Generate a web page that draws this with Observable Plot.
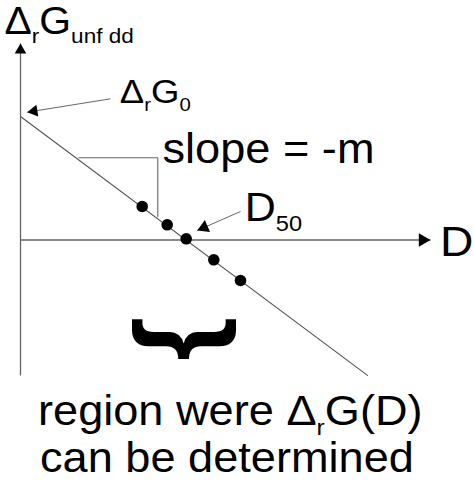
<!DOCTYPE html>
<html>
<head>
<meta charset="utf-8">
<script src="https://cdn.jsdelivr.net/npm/d3@7"></script>
<script src="https://cdn.jsdelivr.net/npm/@observablehq/plot@0.6"></script>
<style>
  html, body { margin: 0; padding: 0; background: #fff; }
  #chart { width: 474px; height: 483px; overflow: hidden; }
</style>
</head>
<body>
<div id="chart"></div>
<script>
// ---- data (denaturant concentration D vs. ΔrG) ----
const pointD = [12.17, 14.67, 16.57, 19.33, 22.0];
const pointG = [3.35, 1.52, 0.12, -1.98, -4.05];

// fitted straight line, end points
const lineD = [0, 34.7];
const lineG = [12.35, -13.54];

// slope triangle (horizontal + vertical leg)
const bracketD = [5.83, 13.73, 13.73];
const bracketG = [8.22, 8.22, 2.35];

// arrows: y axis, x axis, ΔrG0 pointer, D50 pointer
const arrowFromD = [0, 0, 9.0, 22.0];
const arrowFromG = [-13.55, 0, 14.12, 2.85];
const arrowTipD  = [0, 41, 0.67, 17.67];
const arrowTipG  = [19.65, 0, 12.78, 0.95];

// labels (anchor = left end of baseline)
const labelText = ["Δ_{r}G_{unf dd}", "Δ_{r}G_{0}", "slope = -m", "D_{50}", "D",
                   "region were Δ_{r}G(D)", "can be determined"];
const labelD = [-1.6, 9.93, 14.2, 22.42, 41.96, 1.75, 1.95];
const labelG = [20.6, 13.7, 7.75, 1.9, -1.55, -18.45, -23.22];

// brace marking the transition region
const braceText = ["}"];
const braceD = [17.07];
const braceG = [-9.88];

// ---- styling ----
const fontSizes = [38, 34, 42, 40, 43, 42, 42];
const headR = [4.3, 5.0, 4.4, 4.8];
const arrowWidth = [1.3, 1.3, 1, 1];
const PX = 10; // pixels per data unit (both axes, from the scales below)

function tipDist(r) {
  const area = Math.PI * r * r;
  return 2 * Math.sqrt(area / (3 * Math.sqrt(3)));
}
const heads = arrowTipD.map((td, i) => {
  const dxp = (td - arrowFromD[i]) * PX;
  const dyp = -(arrowTipG[i] - arrowFromG[i]) * PX;
  const len = Math.hypot(dxp, dyp);
  const ux = dxp / len, uy = dyp / len;
  const t = tipDist(headR[i]);
  return {
    D: td - ux * t / PX,
    G: arrowTipG[i] + uy * t / PX,
    rot: Math.atan2(dxp, -dyp) * 180 / Math.PI,
    r: headR[i]
  };
});

const idx = (a) => a.map((_, i) => i);

const marks = [];
// fitted line
marks.push(Plot.line(idx(lineD), {x: i => lineD[i], y: i => lineG[i], stroke: "#555", strokeWidth: 1.1}));
// slope bracket
marks.push(Plot.line(idx(bracketD), {x: i => bracketD[i], y: i => bracketG[i], stroke: "#666", strokeWidth: 1.1}));
// arrow shafts
arrowFromD.forEach((_, i) => {
  marks.push(Plot.link([i], {
    x1: j => arrowFromD[j], y1: j => arrowFromG[j],
    x2: j => arrowTipD[j], y2: j => arrowTipG[j],
    stroke: "#666", strokeWidth: arrowWidth[i]
  }));
});
// arrow heads
heads.forEach((h) => {
  marks.push(Plot.dot([h], {x: "D", y: "G", rotate: "rot", r: h.r, symbol: "triangle", fill: "black", stroke: "none"}));
});
// data points
marks.push(Plot.dot(idx(pointD), {x: i => pointD[i], y: i => pointG[i], r: 5.8, fill: "black", stroke: "none"}));
// labels
labelText.forEach((_, i) => {
  marks.push(Plot.text([i], {
    x: j => labelD[j], y: j => labelG[j], text: j => labelText[j],
    fontSize: fontSizes[i], textAnchor: "start", lineAnchor: "bottom", fill: "black"
  }));
});
// brace
marks.push(Plot.text(idx(braceText), {
  x: i => braceD[i], y: i => braceG[i], text: i => braceText[i],
  rotate: 90, fontSize: 112, fontWeight: "bold", textAnchor: "middle", lineAnchor: "middle", fill: "black"
}));

const svg = Plot.plot({
  width: 474,
  height: 483,
  margin: 0,
  x: {domain: [0, 41], range: [20, 430], axis: null},
  y: {domain: [-13.55, 19.75], range: [375, 42], axis: null},
  style: {fontFamily: "'Liberation Sans', Arial, sans-serif", background: "white", overflow: "visible"},
  marks
});
document.getElementById("chart").appendChild(svg);

// subscripts and the slightly wide lettering of the original
const NS = "http://www.w3.org/2000/svg";
svg.querySelectorAll("text").forEach(t => {
  const tr = t.getAttribute("transform") || "";
  if (!tr.includes("rotate")) t.setAttribute("transform", tr + " scale(1.075,1)");
  const s = t.textContent;
  if (!s.includes("_{")) return;
  const fs = parseFloat(getComputedStyle(t).fontSize);
  const sub = Math.round(fs * 0.55), shift = fs * 0.24;
  t.textContent = "";
  let down = false;
  for (const p of s.split(/(_\{[^}]*\})/)) {
    if (!p) continue;
    const ts = document.createElementNS(NS, "tspan");
    if (p.startsWith("_{")) {
      ts.textContent = p.slice(2, -1);
      ts.setAttribute("font-size", sub);
      ts.setAttribute("dy", down ? 0 : shift);
      down = true;
    } else {
      ts.textContent = p;
      if (down) { ts.setAttribute("dy", -shift); down = false; }
    }
    t.appendChild(ts);
  }
});
</script>
</body>
</html>
